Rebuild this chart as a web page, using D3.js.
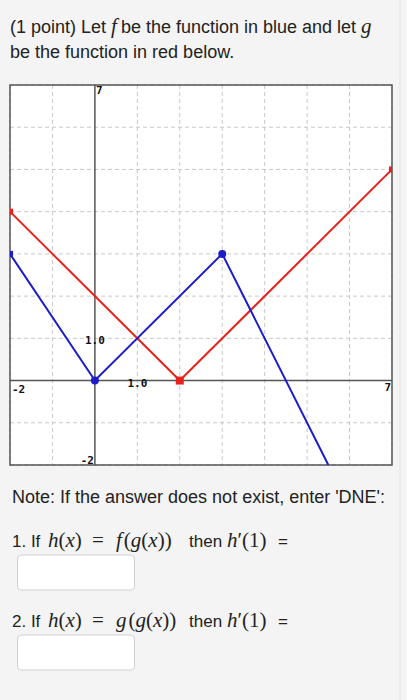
<!DOCTYPE html>
<html>
<head>
<meta charset="utf-8">
<script src="https://cdn.jsdelivr.net/npm/d3@7"></script>
<style>
  body { margin: 0; background: #f4f4f4; }
  svg { display: block; }
</style>
</head>
<body>
<svg id="chart" width="407" height="700"></svg>
<script>
// graph data
const fX = [-2, 0, 3, 5.5];
const fY = [3, 0, 3, -2];
const gX = [-2, 2, 7];
const gY = [4, 0, 5];
const fDots = [[0, 0], [3, 3]];
const gDots = [[2, 0]];
const gridTicks = [-2, -1, 0, 1, 2, 3, 4, 5, 6, 7];

const svg = d3.select("#chart");
const sans = "'Liberation Sans', Arial, sans-serif";
const serif = "'Liberation Serif', 'DejaVu Serif', serif";
const mono = "'DejaVu Sans Mono', monospace";

// panel edge on the right
svg.append("line")
  .attr("x1", 400).attr("x2", 400).attr("y1", 0).attr("y2", 700)
  .attr("stroke", "#e2e2e2");

// heading
const t1 = svg.append("text").attr("x", 10).attr("y", 33)
  .attr("font-family", sans).attr("font-size", "18px").attr("fill", "#222");
t1.append("tspan").text("(1 point) Let ");
t1.append("tspan").text("f").attr("font-family", serif).attr("font-style", "italic").attr("font-size", "21px");
t1.append("tspan").text("be the function in blue and let ").attr("dx", 4);
t1.append("tspan").text("g").attr("font-family", serif).attr("font-style", "italic").attr("font-size", "21px");

svg.append("text").attr("x", 10).attr("y", 58)
  .attr("font-family", sans).attr("font-size", "18px").attr("fill", "#222")
  .text("be the function in red below.");

// plot
const pLeft = 10, pRight = 392, pTop = 85, pBottom = 465;
const x = d3.scaleLinear().domain([-2, 7]).range([pLeft, pRight]);
const y = d3.scaleLinear().domain([-2, 7]).range([pBottom, pTop]);

svg.append("rect")
  .attr("x", pLeft).attr("y", pTop)
  .attr("width", pRight - pLeft).attr("height", pBottom - pTop)
  .attr("fill", "#fff");

svg.append("defs").append("clipPath").attr("id", "clip")
  .append("rect")
  .attr("x", pLeft).attr("y", pTop)
  .attr("width", pRight - pLeft).attr("height", pBottom - pTop);

const grid = svg.append("g")
  .attr("stroke", "#c8c8c8")
  .attr("stroke-dasharray", "4,3");

grid.selectAll(".vx")
  .data(gridTicks.filter((d) => d != 0))
  .join("line")
  .attr("x1", (d) => x(d)).attr("x2", (d) => x(d))
  .attr("y1", pTop).attr("y2", pBottom);

grid.selectAll(".hy")
  .data(gridTicks.filter((d) => d != 0))
  .join("line")
  .attr("y1", (d) => y(d)).attr("y2", (d) => y(d))
  .attr("x1", pLeft).attr("x2", pRight);

// axes
svg.append("line")
  .attr("x1", pLeft).attr("x2", pRight)
  .attr("y1", y(0)).attr("y2", y(0))
  .attr("stroke", "#555").attr("stroke-width", 1.5);
svg.append("line")
  .attr("x1", x(0)).attr("x2", x(0))
  .attr("y1", pTop).attr("y2", pBottom)
  .attr("stroke", "#555").attr("stroke-width", 1.5);

svg.append("rect")
  .attr("x", pLeft).attr("y", pTop)
  .attr("width", pRight - pLeft).attr("height", pBottom - pTop)
  .attr("fill", "none").attr("stroke", "#555").attr("stroke-width", 1.5);

// axis labels
function label(txt, px, py, anchor) {
  svg.append("text")
    .text(txt)
    .attr("x", px).attr("y", py)
    .attr("text-anchor", anchor)
    .attr("font-family", mono)
    .attr("font-weight", "bold")
    .attr("font-size", "11px")
    .attr("fill", "#111");
}
label("7", x(0) + 1, pTop + 9, "start");
label("1.0", x(0), y(1) + 6, "middle");
label("1.0", x(1), y(0) + 6, "middle");
label("-2", pLeft + 2, y(0) + 12, "start");
label("-2", x(0) - 1, pBottom - 1, "end");
label("7", pRight - 1, y(0) + 10, "end");

// functions
const plot = svg.append("g").attr("clip-path", "url(#clip)");
const line = d3.line().x((d) => x(d[0])).y((d) => y(d[1]));
const fPts = fX.map((d, i) => [d, fY[i]]);
const gPts = gX.map((d, i) => [d, gY[i]]);

plot.append("path").datum(gPts).attr("d", line)
  .attr("fill", "none").attr("stroke", "#e8221e").attr("stroke-width", 2);
plot.append("path").datum(fPts).attr("d", line)
  .attr("fill", "none").attr("stroke", "#1c1cc8").attr("stroke-width", 2);

// end marks
plot.selectAll(".gend")
  .data([gPts[0], gPts[gPts.length - 1]])
  .join("rect")
  .attr("x", (d) => x(d[0]) - 3).attr("y", (d) => y(d[1]) - 3)
  .attr("width", 6).attr("height", 6).attr("fill", "#e8221e");
plot.append("rect")
  .attr("x", x(fPts[0][0]) - 3).attr("y", y(fPts[0][1]) - 3)
  .attr("width", 6).attr("height", 6).attr("fill", "#1c1cc8");

svg.selectAll(".fdot")
  .data(fDots)
  .join("circle")
  .attr("cx", (d) => x(d[0])).attr("cy", (d) => y(d[1]))
  .attr("r", 4).attr("fill", "#1c1cc8");
svg.selectAll(".gdot")
  .data(gDots)
  .join("rect")
  .attr("x", (d) => x(d[0]) - 4).attr("y", (d) => y(d[1]) - 4)
  .attr("width", 8).attr("height", 8).attr("fill", "#e8221e");

// questions
svg.append("text").attr("x", 12).attr("y", 503)
  .attr("font-family", sans).attr("font-size", "18px").attr("fill", "#222")
  .text("Note: If the answer does not exist, enter 'DNE':");

function question(num, outer, py) {
  const t = svg.append("text").attr("y", py)
    .attr("font-family", sans).attr("font-size", "17px").attr("fill", "#222");
  const s = (str, px) => t.append("tspan").text(str).attr("x", px);
  const m = (str) => t.append("tspan").text(str).attr("font-family", serif).attr("font-size", "21px");
  const mi = (str) => m(str).attr("font-style", "italic");

  s(num + ". If", 12);
  mi("h").attr("x", 48); m("("); mi("x"); m(")");
  m("=").attr("x", 92);
  mi(outer).attr("x", 116); m("(").attr("dx", 2); mi("g"); m("("); mi("x"); m("))");
  s("then", 189);
  mi("h").attr("x", 227); m("′"); m("(1)");
  s("=", 278);

  svg.append("rect")
    .attr("x", 17.5).attr("y", py + 8)
    .attr("width", 117).attr("height", 35).attr("rx", 4)
    .attr("fill", "#fff").attr("stroke", "#cfcfcf");
}
question(1, "f", 547);
question(2, "g", 627);
</script>
</body>
</html>
